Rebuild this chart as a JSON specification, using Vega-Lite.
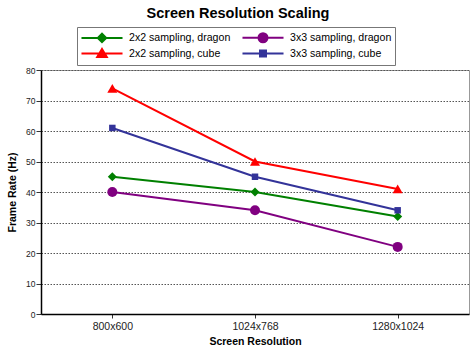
{
  "$schema": "https://vega.github.io/schema/vega-lite/v6.json",
  "width": 428,
  "height": 244,
  "autosize": {"type": "none"},
  "padding": {"left": 41, "top": 70, "right": 5, "bottom": 40},
  "background": "white",
  "config": {
    "font": "Liberation Sans",
    "view": {"stroke": "#999999", "strokeWidth": 1}
  },
  "title": {
    "text": "Screen Resolution Scaling",
    "fontSize": 14.5,
    "fontWeight": "bold",
    "font": "Liberation Sans",
    "color": "black",
    "anchor": "middle",
    "frame": "bounds",
    "offset": 5
  },
  "data": {
    "values": [
      {"series": "2x2 sampling, dragon", "res": "800x600", "fps": 45},
      {"series": "2x2 sampling, dragon", "res": "1024x768", "fps": 40},
      {"series": "2x2 sampling, dragon", "res": "1280x1024", "fps": 32},
      {"series": "3x3 sampling, dragon", "res": "800x600", "fps": 40},
      {"series": "3x3 sampling, dragon", "res": "1024x768", "fps": 34},
      {"series": "3x3 sampling, dragon", "res": "1280x1024", "fps": 22},
      {"series": "2x2 sampling, cube", "res": "800x600", "fps": 74},
      {"series": "2x2 sampling, cube", "res": "1024x768", "fps": 50},
      {"series": "2x2 sampling, cube", "res": "1280x1024", "fps": 41},
      {"series": "3x3 sampling, cube", "res": "800x600", "fps": 61},
      {"series": "3x3 sampling, cube", "res": "1024x768", "fps": 45},
      {"series": "3x3 sampling, cube", "res": "1280x1024", "fps": 34}
    ]
  },
  "encoding": {
    "x": {
      "field": "res",
      "type": "ordinal",
      "sort": ["800x600", "1024x768", "1280x1024"],
      "scale": {"type": "point", "padding": 0.5},
      "axis": {
        "title": "Screen Resolution",
        "titleFontSize": 10.5,
        "titleFontWeight": "bold",
        "titleColor": "black",
        "titlePadding": 5,
        "labelFontSize": 10.5,
        "labelColor": "#222222",
        "labelAngle": 0,
        "labelPadding": 3,
        "tickSize": 4,
        "tickColor": "#333333",
        "domainColor": "black",
        "domainWidth": 1.5,
        "grid": false
      }
    },
    "y": {
      "field": "fps",
      "type": "quantitative",
      "scale": {"domain": [0, 80]},
      "axis": {
        "title": "Frame Rate (Hz)",
        "titleFontSize": 10.5,
        "titleFontWeight": "bold",
        "titleColor": "black",
        "titlePadding": 8.5,
        "values": [0, 10, 20, 30, 40, 50, 60, 70, 80],
        "labelFontSize": 8.5,
        "labelColor": "#222222",
        "labelPadding": 1,
        "tickSize": 5,
        "tickColor": "#333333",
        "domainColor": "black",
        "domainWidth": 1.5,
        "grid": true,
        "gridColor": "#555555",
        "gridDash": [1.5, 1.5],
        "gridWidth": 1
      }
    },
    "color": {
      "field": "series",
      "type": "nominal",
      "scale": {
        "domain": ["2x2 sampling, dragon", "3x3 sampling, dragon", "2x2 sampling, cube", "3x3 sampling, cube"],
        "range": ["#008000", "#800080", "#ff0000", "#333399"]
      },
      "legend": {
        "title": null,
        "orient": "none",
        "legendX": 36,
        "legendY": -43,
        "direction": "horizontal",
        "columns": 2,
        "columnPadding": 7,
        "rowPadding": -3,
        "padding": 3.5,
        "strokeColor": "#777777",
        "fillColor": "white",
        "labelFontSize": 10.6,
        "labelColor": "black",
        "labelFont": "Liberation Sans",
        "symbolSize": 144,
        "symbolOffset": 14.5,
        "labelOffset": 20,
        "symbolStrokeWidth": 2,
        "encoding": {
          "symbols": {
            "shape": {"value": {"expr": "datum.value == '2x2 sampling, dragon' ? 'M-3.42,0L3.42,0M0,-0.7L0.7,0L0,0.7L-0.7,0Z' : datum.value == '3x3 sampling, dragon' ? 'M-3.42,0L3.42,0M0.75,0A0.75,0.75 0 1,1 -0.75,0A0.75,0.75 0 1,1 0.75,0Z' : datum.value == '2x2 sampling, cube' ? 'M-3.42,0L3.42,0M0,-0.75L0.8,0.6L-0.8,0.6Z' : 'M-3.42,0L3.42,0M-0.5,-0.5L0.5,-0.5L0.5,0.5L-0.5,0.5Z'"}},
            "fill": {"value": {"expr": "scale('color', datum.value)"}},
            "stroke": {"value": {"expr": "scale('color', datum.value)"}},
            "strokeWidth": {"value": 2},
            "opacity": {"value": 1}
          }
        }
      }
    }
  },
  "layer": [
    {"mark": {"type": "line", "strokeWidth": 2}},
    {
      "transform": [{"filter": {"field": "series", "equal": "2x2 sampling, dragon"}}],
      "mark": {"type": "point", "filled": true, "opacity": 1, "shape": "diamond", "size": 81}
    },
    {
      "transform": [{"filter": {"field": "series", "equal": "3x3 sampling, dragon"}}],
      "mark": {"type": "point", "filled": true, "opacity": 1, "shape": "circle", "size": 100}
    },
    {
      "transform": [{"filter": {"field": "series", "equal": "2x2 sampling, cube"}}],
      "mark": {"type": "point", "filled": true, "opacity": 1, "shape": "triangle-up", "size": 100}
    },
    {
      "transform": [{"filter": {"field": "series", "equal": "3x3 sampling, cube"}}],
      "mark": {"type": "point", "filled": true, "opacity": 1, "shape": "square", "size": 42}
    }
  ]
}
